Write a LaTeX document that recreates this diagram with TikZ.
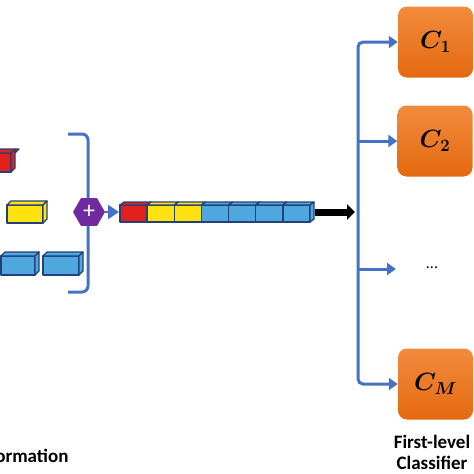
\documentclass[tikz,border=0pt]{standalone}
\usepackage{fontspec}
\setmainfont{Carlito}
\usepackage{bm}
\usetikzlibrary{arrows.meta,shapes.geometric}

\definecolor{featred}{HTML}{E3211C}
\definecolor{featyellow}{HTML}{FFE311}
\definecolor{featblue}{HTML}{4EA7DD}
\definecolor{featline}{HTML}{24407A}
\definecolor{linkblue}{HTML}{4472C4}
\definecolor{plusviolet}{HTML}{6E2A9E}
\definecolor{clftop}{HTML}{F28B3E}
\definecolor{clfbottom}{HTML}{E4690F}

\tikzset{
  feat/.style={draw=featline, line width=1.3pt, line join=round},
  link/.style={draw=linkblue, line width=3pt, -{Triangle[length=9pt,width=12pt]}},
  clf/.style={rounded corners=9pt, minimum width=75pt, minimum height=71pt,
    top color=clftop, bottom color=clfbottom, font=\fontsize{23}{25}\selectfont},
  caption/.style={font=\fontsize{19}{21}\selectfont\bfseries, align=center}
}

\begin{document}
\begin{tikzpicture}[x=1pt,y=-1pt]

\useasboundingbox (0,0) rectangle (474,474);
\clip (0,0) rectangle (474,474);

% Feature blocks (left)
\draw[feat,fill=featred](-10,153)rectangle(11,172);
\draw[feat,fill=featred](-10,153)--++(4,-4)--++(25,0)--++(-4,4)--cycle;
\draw[feat,fill=featred](11,153)--++(4,-4)--++(0,19)--++(-4,4)--cycle;

\draw[feat,fill=featyellow](7,205)rectangle(43,223);
\draw[feat,fill=featyellow](7,205)--++(4,-4)--++(36,0)--++(-4,4)--cycle;
\draw[feat,fill=featyellow](43,205)--++(4,-4)--++(0,18)--++(-4,4)--cycle;

\draw[feat,fill=featblue](1,256)rectangle(35,275);
\draw[feat,fill=featblue](1,256)--++(4,-4)--++(34,0)--++(-4,4)--cycle;
\draw[feat,fill=featblue](35,256)--++(4,-4)--++(0,19)--++(-4,4)--cycle;

\draw[feat,fill=featblue](43,256)rectangle(79,275);
\draw[feat,fill=featblue](43,256)--++(4,-4)--++(36,0)--++(-4,4)--cycle;
\draw[feat,fill=featblue](79,256)--++(4,-4)--++(0,19)--++(-4,4)--cycle;

% Bracket
\draw[linkblue,line width=3pt,rounded corners=6pt](68,134)-|(88,292)--(68,292);

% Concatenation
\node[regular polygon,regular polygon sides=6,fill=plusviolet,minimum size=32pt,inner sep=0pt]
  (plus) at (89,212) {\textcolor{white}{\fontsize{24}{24}\selectfont +}};
\coordinate (vin) at (119,212);
\draw[linkblue,line width=2pt,-{Triangle[length=11pt,width=14pt]}](plus.east)--(vin);

% Feature vector
\draw[feat,fill=featred](120,205)rectangle++(27.1,17);
\draw[feat,fill=featyellow](147.1,205)rectangle++(27.1,17);
\draw[feat,fill=featyellow](174.3,205)rectangle++(27.1,17);
\draw[feat,fill=featblue](201.4,205)rectangle++(27.1,17);
\draw[feat,fill=featblue](228.6,205)rectangle++(27.1,17);
\draw[feat,fill=featblue](255.7,205)rectangle++(27.1,17);
\draw[feat,fill=featblue](282.9,205)rectangle++(27.1,17);

\draw[feat,fill=featred](120,205)--++(4,-3)--++(27.1,0)--++(-4,3)--cycle;
\draw[feat,fill=featyellow](147.1,205)--++(4,-3)--++(27.1,0)--++(-4,3)--cycle;
\draw[feat,fill=featyellow](174.3,205)--++(4,-3)--++(27.1,0)--++(-4,3)--cycle;
\draw[feat,fill=featblue](201.4,205)--++(4,-3)--++(27.1,0)--++(-4,3)--cycle;
\draw[feat,fill=featblue](228.6,205)--++(4,-3)--++(27.1,0)--++(-4,3)--cycle;
\draw[feat,fill=featblue](255.7,205)--++(4,-3)--++(27.1,0)--++(-4,3)--cycle;
\draw[feat,fill=featblue](282.9,205)--++(4,-3)--++(27.1,0)--++(-4,3)--cycle;
\draw[feat,fill=featblue](310,205)--++(4,-3)--++(0,17)--++(-4,3)--cycle;

% Output arrow
\coordinate (vout) at (315,212);
\coordinate (vend) at (355,212);
\draw[black,line width=7pt,-{Triangle[length=8pt,width=15pt]}](vout)--(vend);

% First-level classifiers
\node[clf] (c1) at (435.5,42) {$\bm{C_1}$};
\node[clf] (c2) at (435,141) {$\bm{C_2}$};
\node[clf] (cm) at (435.5,384) {$\bm{C_M}$};
\node[font=\fontsize{16}{16}\selectfont] (dots) at (432,268) {...};

\coordinate (split) at (358,212);
\coordinate (b2) at (358,141);
\coordinate (b3) at (358,269);
\coordinate (e3) at (396,269);

\draw[link,rounded corners=5pt](split)|-(c1.west);
\draw[link,rounded corners=5pt](split)|-(cm.west);
\draw[link](b2)--(c2.west);
\draw[link](b3)--(e3);

% Captions
\node[caption] (clfcap) at (432,452) {First-level\\Classifier};
\node[caption,anchor=base east] (infocap) at (72,462) {Information};

\end{tikzpicture}
\end{document}
